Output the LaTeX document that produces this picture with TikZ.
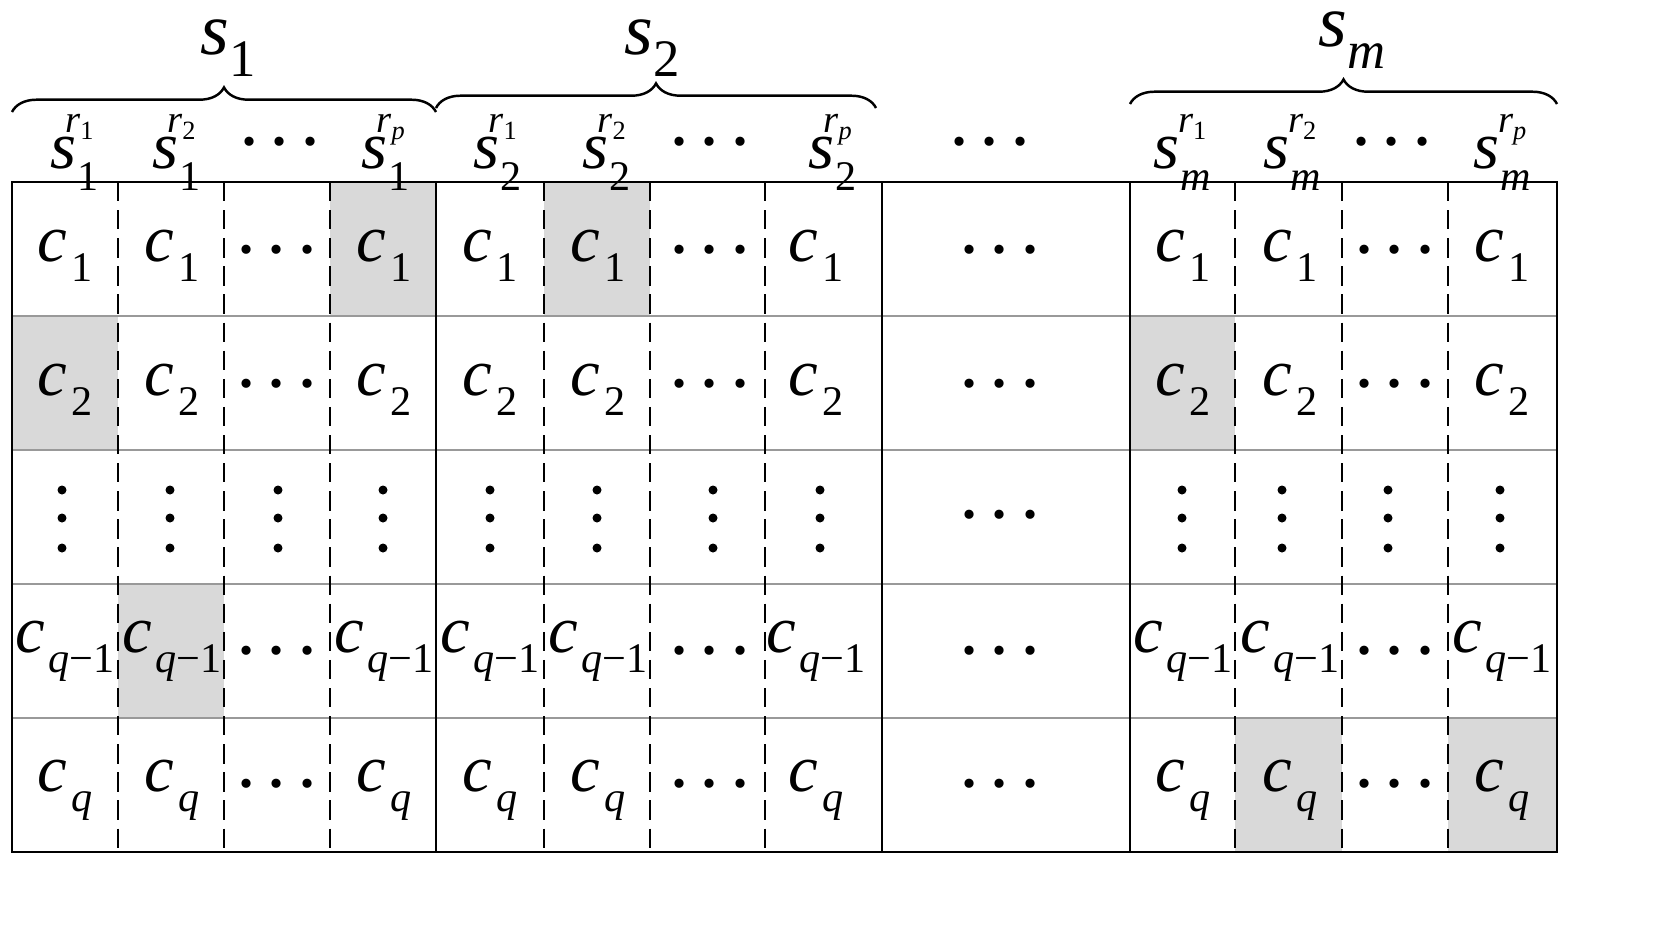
\documentclass[tikz,border=0pt]{standalone}
\usepackage{fontspec}
\setmainfont{Liberation Serif}
\usetikzlibrary{decorations.pathreplacing}
\newcommand\ci[2]{\textit{c}\kern0.06em\raisebox{-0.3em}{\fontsize{24}{26}\selectfont #2}}
\newcommand\sh[2]{\textit{s}\kern0.02em\raisebox{-0.32em}{\fontsize{24}{26}\selectfont #1}\kern-0.5em\raisebox{0.55em}{\fontsize{22}{24}\selectfont\textit{r}\raisebox{-0.2em}{\fontsize{15}{16}\selectfont #2}}}
\begin{document}
\begin{tikzpicture}[x=0.02cm,y=-0.02cm,
  cell/.style={font=\fontsize{38}{42}\selectfont,inner sep=0pt},
  hdr/.style={font=\fontsize{38}{42}\selectfont,inner sep=0pt},
  big/.style={font=\fontsize{42}{46}\selectfont,inner sep=0pt},
  dts/.style={font=\fontsize{32}{36}\selectfont\bfseries,inner sep=0pt},
  shade/.style={fill=black!15},
  brc/.style={decorate,decoration={brace,amplitude=14pt,aspect=0.5},line width=1.4pt},
  execute at end picture={\pgfresetboundingbox\path (0,0) rectangle (1680,927);}]
\foreach \xa/\xb/\ya/\yb in {330/436/182/316,544/650/182/316,12/118/316/450,1130/1235/316/450,118/224/584/718,1235/1342/718/852,1448/1557/718/852}
  \fill[shade] (\xa,\ya) rectangle (\xb,\yb);
\foreach \y in {316,450,584,718} \draw[black!40,line width=1pt] (12,\y) -- (1557,\y);
\draw[line width=1.6pt] (12,182) rectangle (1557,852);
\foreach \x in {436,882,1130} \draw[line width=1.6pt] (\x,182) -- (\x,852);
\foreach \x in {118,224,330,544,650,765,1235,1342,1448} \draw[dash pattern=on 11pt off 5pt,line width=1.4pt] (\x,182) -- (\x,852);
% braces
\draw[brc] (12,112) -- (436,112);
\draw[brc] (436,108) -- (876,108);
\draw[brc] (1130,104) -- (1557,104);
\node[big] (S1) at (228,48) {\textit{s}\raisebox{-0.3em}{\fontsize{30}{32}\selectfont 1}};
\node[big] (S2) at (652,48) {\textit{s}\raisebox{-0.3em}{\fontsize{30}{32}\selectfont 2}};
\node[big] (Sm) at (1352,40) {\textit{s}\raisebox{-0.3em}{\fontsize{30}{32}\selectfont\textit{m}}};
% headers
\foreach \x/\a/\b [count=\i] in {72/1/1,174/1/2,383/1/\textit{p},495/2/1,604/2/2,830/2/\textit{p},1180/\textit{m}/1,1290/\textit{m}/2,1500/\textit{m}/\textit{p}}
  \node[hdr] (h\i) at (\x,152) {\sh{\a}{\b}};
\foreach \x [count=\k] in {280,710,990,1392}
  \node[dts] (hd\k) at (\x,142) {.\hspace{0.3em}.\hspace{0.3em}.};
% cells
\foreach \y/\s [count=\r] in {256/1,390/2,651/\textit{q}−1,790/\textit{q}}{
  \foreach \x [count=\k] in {65,172,384,490,598,816,1183,1290,1502}
    \node[cell] (n\r-\k) at (\x,\y) {\ci{c}{\s}};
}
\foreach \y [count=\r] in {250,384,651,784}{
  \foreach \x [count=\k] in {277,710,1000,1395}
    \node[dts] (d\r-\k) at (\x,\y) {.\hspace{0.3em}.\hspace{0.3em}.};
}
\node[dts] (dm) at (1000,515) {.\hspace{0.3em}.\hspace{0.3em}.};
\foreach \x in {62,170,278,383,490,597,713,820,1182,1282,1388,1500}
  \foreach \y in {490,518,548} \fill (\x,\y) circle (4.5);
\end{tikzpicture}
\end{document}
